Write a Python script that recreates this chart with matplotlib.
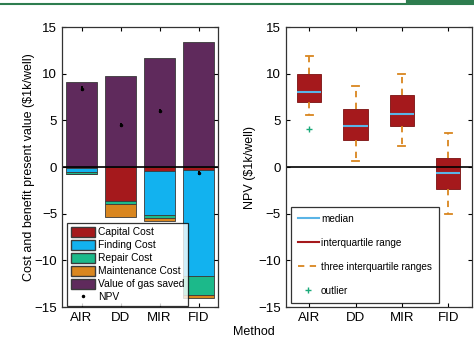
import numpy as np
import matplotlib.pyplot as plt
from matplotlib.patches import Patch
from matplotlib.lines import Line2D

plt.rcParams['font.family'] = ['Liberation Sans', 'DejaVu Sans']

methods = ['AIR', 'DD', 'MIR', 'FID']

# present values ($1k/well), costs negative
capital = np.array([-0.1, -3.6, -0.4, -0.3])
finding = np.array([-0.45, 0.0, -4.7, -11.4])
repair = np.array([-0.23, -0.35, -0.35, -2.0])
maintenance = np.array([0.0, -1.4, -0.35, -0.3])
gas_saved = np.array([9.15, 9.8, 11.7, 13.4])
npv = np.array([8.4, 4.5, 6.0, -0.65])
npv_err = np.array([0.25, 0.25, 0.25, 0.25])

# NPV distribution summary per method
whislo = [5.6, 0.7, 2.3, -5.0]
q1 = [7.0, 2.9, 4.35, -2.35]
med = [8.1, 4.4, 5.7, -0.65]
q3 = [10.0, 6.2, 7.7, 1.0]
whishi = [11.9, 8.7, 10.0, 3.7]
fliers = [[4.1], [], [], []]

c_cap = '#a5191c'
c_find = '#12b2ef'
c_rep = '#1cb98a'
c_main = '#d9861f'
c_gas = '#5f2a5c'
c_med = '#5ab4e6'
c_out = '#1aaa7a'

fig = plt.figure(figsize=(4.74, 3.57), dpi=100)
ax1 = fig.add_axes([0.131, 0.140, 0.329, 0.784])
ax2 = fig.add_axes([0.603, 0.140, 0.392, 0.784])

x = np.arange(1, 5)
w = 0.8
ec = '#3a3a3a'
ax1.bar(x, gas_saved, w, color=c_gas, edgecolor=ec, linewidth=0.6)
bottom = np.zeros(4)
for vals, col in [(capital, c_cap), (finding, c_find), (repair, c_rep), (maintenance, c_main)]:
    ax1.bar(x, vals, w, bottom=bottom, color=col, edgecolor=ec, linewidth=0.6)
    bottom = bottom + vals
ax1.errorbar(x, npv, yerr=npv_err, fmt='.', color='black', markersize=3, elinewidth=1.4, capsize=0)
ax1.axhline(0, color='black', linewidth=1.2)

ax1.set_xlim(0.5, 4.5)
ax1.set_ylim(-15, 15)
ax1.set_xticks(x)
ax1.set_xticklabels(methods)
ax1.set_yticks([-15, -10, -5, 0, 5, 10, 15])
ax1.set_ylabel('Cost and benefit present value ($1k/well)', fontsize=9, labelpad=0)

handles = [Patch(facecolor=c_cap, edgecolor=ec, label='Capital Cost'),
           Patch(facecolor=c_find, edgecolor=ec, label='Finding Cost'),
           Patch(facecolor=c_rep, edgecolor=ec, label='Repair Cost'),
           Patch(facecolor=c_main, edgecolor=ec, label='Maintenance Cost'),
           Patch(facecolor=c_gas, edgecolor=ec, label='Value of gas saved'),
           Line2D([], [], marker='.', linestyle='none', color='black', markersize=3, label='NPV')]
leg1 = ax1.legend(handles=handles, loc='lower left', bbox_to_anchor=(0.025, 0.0), fontsize=7.4,
                  frameon=True, fancybox=False, edgecolor='black', handlelength=2.4, handleheight=1.1,
                  handletextpad=0.3, borderpad=0.35, labelspacing=0.25, borderaxespad=0.1)
leg1.get_frame().set_linewidth(0.9)

stats = []
for i in range(4):
    stats.append(dict(label=methods[i], whislo=whislo[i], q1=q1[i], med=med[i],
                      q3=q3[i], whishi=whishi[i], fliers=fliers[i]))
ax2.bxp(stats, positions=x, widths=0.52, patch_artist=True,
        boxprops=dict(facecolor=c_cap, edgecolor='#7a1010', linewidth=0.6),
        medianprops=dict(color=c_med, linewidth=1.5),
        whiskerprops=dict(color=c_main, linestyle=(0, (3.5, 3)), linewidth=1.3),
        capprops=dict(color=c_main, linewidth=1.3),
        flierprops=dict(marker='+', markeredgecolor=c_out, markersize=5, linestyle='none'),
        capwidths=0.15)
ax2.axhline(0, color='black', linewidth=1.2)
ax2.set_xlim(0.5, 4.5)
ax2.set_ylim(-15, 15)
ax2.set_xticks(x)
ax2.set_xticklabels(methods)
ax2.set_yticks([-15, -10, -5, 0, 5, 10, 15])
ax2.set_ylabel('NPV ($1k/well)', fontsize=9, labelpad=2)

handles2 = [Line2D([], [], color=c_med, linewidth=1.5, label='median'),
            Line2D([], [], color=c_cap, linewidth=1.5, label='interquartile range'),
            Line2D([], [], color=c_main, linewidth=1.3, linestyle=(0, (3.5, 3)), label='three interquartile ranges'),
            Line2D([], [], color=c_out, marker='+', linestyle='none', markersize=5, label='outlier')]
leg2 = ax2.legend(handles=handles2, loc='lower left', bbox_to_anchor=(0.02, 0.012), fontsize=7.2,
                  frameon=True, fancybox=False, edgecolor='black', handlelength=2.1,
                  handletextpad=0.25, borderpad=0.7, labelspacing=1.4, borderaxespad=0.1)
leg2.get_frame().set_linewidth(0.9)

for ax in (ax1, ax2):
    ax.tick_params(direction='in', top=True, right=True, labelsize=9.5, length=3, width=0.8)
    for s in ax.spines.values():
        s.set_linewidth(0.9)
        s.set_color('#333333')

fig.text(0.535, 0.07, 'Method', ha='center', va='center', fontsize=9)

# page rule at top of the crop
fig.add_artist(Line2D([0, 1], [0.99, 0.99], color='#2e7d4f', linewidth=1.5, transform=fig.transFigure))
fig.add_artist(Line2D([0.86, 1], [0.995, 0.995], color='#2e7d4f', linewidth=3, transform=fig.transFigure))

fig.savefig('out.png', dpi=100)
